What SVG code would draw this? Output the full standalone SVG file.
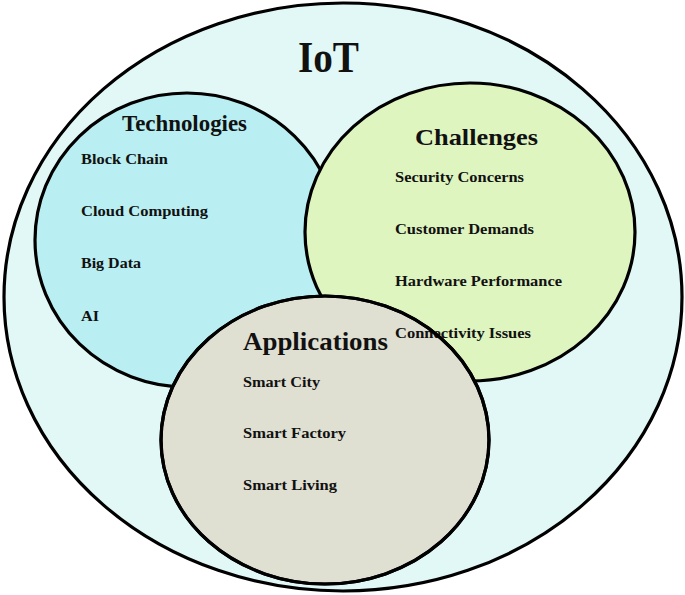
<svg xmlns="http://www.w3.org/2000/svg" width="685" height="595" viewBox="0 0 685 595">
<style>
.c{stroke:#000;stroke-width:3.2}
text{font-family:"Liberation Serif","Times New Roman",serif;font-weight:bold;fill:#111}
.item{font-size:14.5px}
.head{font-size:23px}
</style>
<rect width="685" height="595" fill="#fff"/>
<g id="iot">
<ellipse class="c" cx="343" cy="297" rx="339" ry="294" fill="#e1f8f6"/>
<text x="298" y="72" font-size="44" textLength="61" lengthAdjust="spacingAndGlyphs">IoT</text>
</g>
<g id="technologies">
<ellipse class="c" cx="187" cy="240" rx="152" ry="147" fill="#b9eff2"/>
<text class="head" x="122" y="131" textLength="125" lengthAdjust="spacingAndGlyphs">Technologies</text>
<text class="item" x="81" y="164" textLength="87" lengthAdjust="spacingAndGlyphs">Block Chain</text>
<text class="item" x="81" y="216" textLength="127" lengthAdjust="spacingAndGlyphs">Cloud Computing</text>
<text class="item" x="81" y="268" textLength="60" lengthAdjust="spacingAndGlyphs">Big Data</text>
<text class="item" x="81" y="321" textLength="18" lengthAdjust="spacingAndGlyphs">AI</text>
</g>
<g id="challenges">
<ellipse class="c" cx="470" cy="232" rx="165" ry="149" fill="#dff5c0"/>
<text class="head" x="415" y="145" font-size="24" textLength="123" lengthAdjust="spacingAndGlyphs">Challenges</text>
<text class="item" x="395" y="182" textLength="129" lengthAdjust="spacingAndGlyphs">Security Concerns</text>
<text class="item" x="395" y="234" textLength="139" lengthAdjust="spacingAndGlyphs">Customer Demands</text>
<text class="item" x="395" y="286" textLength="167" lengthAdjust="spacingAndGlyphs">Hardware Performance</text>
</g>
<g id="applications">
<ellipse class="c" cx="325" cy="440" rx="164" ry="144" fill="#dfdfd2"/>
<text class="item" x="395" y="338" textLength="136" lengthAdjust="spacingAndGlyphs">Connectivity Issues</text>
<ellipse class="c" cx="325" cy="440" rx="164" ry="144" fill="none"/>
<text x="243" y="350" font-size="25" textLength="145" lengthAdjust="spacingAndGlyphs">Applications</text>
<text class="item" x="243" y="387" textLength="77" lengthAdjust="spacingAndGlyphs">Smart City</text>
<text class="item" x="243" y="438" textLength="103" lengthAdjust="spacingAndGlyphs">Smart Factory</text>
<text class="item" x="243" y="490" textLength="94" lengthAdjust="spacingAndGlyphs">Smart Living</text>
</g>
<g id="connectors"/>
</svg>
